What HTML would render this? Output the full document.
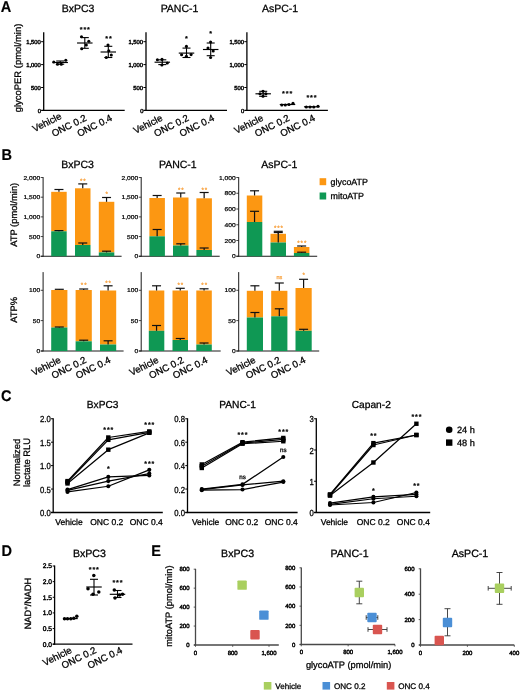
<!DOCTYPE html>
<html lang="en">
<head>
<meta charset="utf-8">
<title>Figure</title>
<style>
html,body{margin:0;padding:0;background:#fff;}
body{width:520px;height:691px;overflow:hidden;}
svg{display:block;font-family:"Liberation Sans", Arial, Helvetica, sans-serif;}
svg text{text-rendering:geometricPrecision;}
</style>
</head>
<body>
<svg width="520" height="691" viewBox="0 0 520 691">
<rect x="0" y="0" width="520" height="691" fill="#fff"/>
<text x="0.80" y="11.50" font-size="15.5" text-anchor="start" font-weight="bold" fill="#000" stroke="#000" stroke-width="0.15" transform="translate(0.80 11.50) scale(0.94 1) translate(-0.80 -11.50)" >A</text>
<text x="1.40" y="159.50" font-size="15.5" text-anchor="start" font-weight="bold" fill="#000" stroke="#000" stroke-width="0.15" transform="translate(1.40 159.50) scale(0.94 1) translate(-1.40 -159.50)" >B</text>
<text x="1.00" y="401.20" font-size="15.5" text-anchor="start" font-weight="bold" fill="#000" stroke="#000" stroke-width="0.15" transform="translate(1.00 401.20) scale(0.94 1) translate(-1.00 -401.20)" >C</text>
<text x="1.40" y="556.20" font-size="15.5" text-anchor="start" font-weight="bold" fill="#000" stroke="#000" stroke-width="0.15" transform="translate(1.40 556.20) scale(0.94 1) translate(-1.40 -556.20)" >D</text>
<text x="151.30" y="556.20" font-size="15.5" text-anchor="start" font-weight="bold" fill="#000" stroke="#000" stroke-width="0.15" transform="translate(151.30 556.20) scale(0.94 1) translate(-151.30 -556.20)" >E</text>
<text x="78.00" y="11.80" font-size="10.5" text-anchor="middle" font-weight="normal" fill="#000" stroke="#000" stroke-width="0.28" >BxPC3</text>
<text x="179.50" y="11.80" font-size="10.5" text-anchor="middle" font-weight="normal" fill="#000" stroke="#000" stroke-width="0.28" >PANC-1</text>
<text x="280.00" y="11.80" font-size="10.5" text-anchor="middle" font-weight="normal" fill="#000" stroke="#000" stroke-width="0.28" >AsPC-1</text>
<line x1="43.70" y1="32.30" x2="43.70" y2="111.00" stroke="#000" stroke-width="1.3" stroke-linecap="butt"/>
<line x1="41.10" y1="110.40" x2="124.70" y2="110.40" stroke="#000" stroke-width="1.3" stroke-linecap="butt"/>
<line x1="41.10" y1="41.70" x2="43.70" y2="41.70" stroke="#000" stroke-width="1.0" stroke-linecap="butt"/>
<text x="40.70" y="43.80" font-size="5.8" text-anchor="end" font-weight="normal" fill="#000" stroke="#000" stroke-width="0.42" >1,500</text>
<line x1="41.10" y1="64.60" x2="43.70" y2="64.60" stroke="#000" stroke-width="1.0" stroke-linecap="butt"/>
<text x="40.70" y="66.70" font-size="5.8" text-anchor="end" font-weight="normal" fill="#000" stroke="#000" stroke-width="0.42" >1,000</text>
<line x1="41.10" y1="87.50" x2="43.70" y2="87.50" stroke="#000" stroke-width="1.0" stroke-linecap="butt"/>
<text x="40.70" y="89.60" font-size="5.8" text-anchor="end" font-weight="normal" fill="#000" stroke="#000" stroke-width="0.42" >500</text>
<text x="41.10" y="113.30" font-size="5.8" text-anchor="end" font-weight="normal" fill="#000" stroke="#000" stroke-width="0.42" >0</text>
<line x1="146.00" y1="32.30" x2="146.00" y2="111.00" stroke="#000" stroke-width="1.3" stroke-linecap="butt"/>
<line x1="143.40" y1="110.40" x2="227.00" y2="110.40" stroke="#000" stroke-width="1.3" stroke-linecap="butt"/>
<line x1="143.40" y1="41.70" x2="146.00" y2="41.70" stroke="#000" stroke-width="1.0" stroke-linecap="butt"/>
<text x="143.00" y="43.80" font-size="5.8" text-anchor="end" font-weight="normal" fill="#000" stroke="#000" stroke-width="0.42" >1,500</text>
<line x1="143.40" y1="64.60" x2="146.00" y2="64.60" stroke="#000" stroke-width="1.0" stroke-linecap="butt"/>
<text x="143.00" y="66.70" font-size="5.8" text-anchor="end" font-weight="normal" fill="#000" stroke="#000" stroke-width="0.42" >1,000</text>
<line x1="143.40" y1="87.50" x2="146.00" y2="87.50" stroke="#000" stroke-width="1.0" stroke-linecap="butt"/>
<text x="143.00" y="89.60" font-size="5.8" text-anchor="end" font-weight="normal" fill="#000" stroke="#000" stroke-width="0.42" >500</text>
<text x="143.40" y="113.30" font-size="5.8" text-anchor="end" font-weight="normal" fill="#000" stroke="#000" stroke-width="0.42" >0</text>
<line x1="246.90" y1="32.30" x2="246.90" y2="111.00" stroke="#000" stroke-width="1.3" stroke-linecap="butt"/>
<line x1="244.30" y1="110.40" x2="327.90" y2="110.40" stroke="#000" stroke-width="1.3" stroke-linecap="butt"/>
<line x1="244.30" y1="41.70" x2="246.90" y2="41.70" stroke="#000" stroke-width="1.0" stroke-linecap="butt"/>
<text x="243.90" y="43.80" font-size="5.8" text-anchor="end" font-weight="normal" fill="#000" stroke="#000" stroke-width="0.42" >1,500</text>
<line x1="244.30" y1="64.60" x2="246.90" y2="64.60" stroke="#000" stroke-width="1.0" stroke-linecap="butt"/>
<text x="243.90" y="66.70" font-size="5.8" text-anchor="end" font-weight="normal" fill="#000" stroke="#000" stroke-width="0.42" >1,000</text>
<line x1="244.30" y1="87.50" x2="246.90" y2="87.50" stroke="#000" stroke-width="1.0" stroke-linecap="butt"/>
<text x="243.90" y="89.60" font-size="5.8" text-anchor="end" font-weight="normal" fill="#000" stroke="#000" stroke-width="0.42" >500</text>
<text x="244.30" y="113.30" font-size="5.8" text-anchor="end" font-weight="normal" fill="#000" stroke="#000" stroke-width="0.42" >0</text>
<text x="62.20" y="118.40" font-size="9.65" text-anchor="end" font-weight="normal" fill="#000" stroke="#000" stroke-width="0.28" transform="rotate(-26.5 62.20 118.40)" >Vehicle</text>
<text x="87.20" y="120.20" font-size="9.65" text-anchor="end" font-weight="normal" fill="#000" stroke="#000" stroke-width="0.28" transform="rotate(-26.5 87.20 120.20)" >ONC 0.2</text>
<text x="112.70" y="120.20" font-size="9.65" text-anchor="end" font-weight="normal" fill="#000" stroke="#000" stroke-width="0.28" transform="rotate(-26.5 112.70 120.20)" >ONC 0.4</text>
<text x="163.20" y="120.20" font-size="9.65" text-anchor="end" font-weight="normal" fill="#000" stroke="#000" stroke-width="0.28" transform="rotate(-26.5 163.20 120.20)" >Vehicle</text>
<text x="189.50" y="120.20" font-size="9.65" text-anchor="end" font-weight="normal" fill="#000" stroke="#000" stroke-width="0.28" transform="rotate(-26.5 189.50 120.20)" >ONC 0.2</text>
<text x="215.00" y="120.20" font-size="9.65" text-anchor="end" font-weight="normal" fill="#000" stroke="#000" stroke-width="0.28" transform="rotate(-26.5 215.00 120.20)" >ONC 0.4</text>
<text x="264.10" y="120.20" font-size="9.65" text-anchor="end" font-weight="normal" fill="#000" stroke="#000" stroke-width="0.28" transform="rotate(-26.5 264.10 120.20)" >Vehicle</text>
<text x="290.40" y="120.20" font-size="9.65" text-anchor="end" font-weight="normal" fill="#000" stroke="#000" stroke-width="0.28" transform="rotate(-26.5 290.40 120.20)" >ONC 0.2</text>
<text x="315.90" y="120.20" font-size="9.65" text-anchor="end" font-weight="normal" fill="#000" stroke="#000" stroke-width="0.28" transform="rotate(-26.5 315.90 120.20)" >ONC 0.4</text>
<text x="20.80" y="68.00" font-size="9.45" text-anchor="middle" font-weight="normal" fill="#000" stroke="#000" stroke-width="0.28" transform="rotate(-90 20.80 68.00)" >glycoPER (pmol/min)</text>
<line x1="52.45" y1="62.50" x2="67.95" y2="62.50" stroke="#000" stroke-width="1.15" stroke-linecap="butt"/>
<line x1="60.20" y1="61.00" x2="60.20" y2="64.20" stroke="#000" stroke-width="1.1" stroke-linecap="butt"/>
<line x1="56.20" y1="61.00" x2="64.20" y2="61.00" stroke="#000" stroke-width="1.1" stroke-linecap="butt"/>
<line x1="56.20" y1="64.20" x2="64.20" y2="64.20" stroke="#000" stroke-width="1.1" stroke-linecap="butt"/>
<circle cx="53.80" cy="62.00" r="1.55" fill="#000"/>
<circle cx="57.50" cy="64.30" r="1.55" fill="#000"/>
<circle cx="61.30" cy="64.30" r="1.55" fill="#000"/>
<circle cx="65.80" cy="60.20" r="1.55" fill="#000"/>
<line x1="77.05" y1="43.00" x2="92.55" y2="43.00" stroke="#000" stroke-width="1.15" stroke-linecap="butt"/>
<line x1="84.80" y1="37.60" x2="84.80" y2="48.30" stroke="#000" stroke-width="1.1" stroke-linecap="butt"/>
<line x1="80.80" y1="37.60" x2="88.80" y2="37.60" stroke="#000" stroke-width="1.1" stroke-linecap="butt"/>
<line x1="80.80" y1="48.30" x2="88.80" y2="48.30" stroke="#000" stroke-width="1.1" stroke-linecap="butt"/>
<circle cx="81.50" cy="36.80" r="1.55" fill="#000"/>
<circle cx="88.80" cy="41.30" r="1.55" fill="#000"/>
<circle cx="86.30" cy="45.00" r="1.55" fill="#000"/>
<circle cx="81.70" cy="48.80" r="1.55" fill="#000"/>
<line x1="100.55" y1="52.00" x2="116.05" y2="52.00" stroke="#000" stroke-width="1.15" stroke-linecap="butt"/>
<line x1="108.30" y1="46.30" x2="108.30" y2="57.50" stroke="#000" stroke-width="1.1" stroke-linecap="butt"/>
<line x1="104.30" y1="46.30" x2="112.30" y2="46.30" stroke="#000" stroke-width="1.1" stroke-linecap="butt"/>
<line x1="104.30" y1="57.50" x2="112.30" y2="57.50" stroke="#000" stroke-width="1.1" stroke-linecap="butt"/>
<circle cx="108.00" cy="45.00" r="1.55" fill="#000"/>
<circle cx="108.80" cy="50.80" r="1.55" fill="#000"/>
<circle cx="111.30" cy="55.00" r="1.55" fill="#000"/>
<circle cx="106.30" cy="57.50" r="1.55" fill="#000"/>
<text x="85.25" y="31.50" font-size="7.2" text-anchor="middle" font-weight="bold" fill="#000" stroke="#000" stroke-width="0.15" letter-spacing="0.9">***</text>
<text x="108.95" y="40.80" font-size="7.2" text-anchor="middle" font-weight="bold" fill="#000" stroke="#000" stroke-width="0.15" letter-spacing="0.9">**</text>
<line x1="154.55" y1="62.20" x2="170.05" y2="62.20" stroke="#000" stroke-width="1.15" stroke-linecap="butt"/>
<line x1="162.30" y1="59.80" x2="162.30" y2="64.60" stroke="#000" stroke-width="1.1" stroke-linecap="butt"/>
<line x1="158.30" y1="59.80" x2="166.30" y2="59.80" stroke="#000" stroke-width="1.1" stroke-linecap="butt"/>
<line x1="158.30" y1="64.60" x2="166.30" y2="64.60" stroke="#000" stroke-width="1.1" stroke-linecap="butt"/>
<circle cx="157.40" cy="59.80" r="1.55" fill="#000"/>
<circle cx="162.00" cy="59.40" r="1.55" fill="#000"/>
<circle cx="167.30" cy="63.00" r="1.55" fill="#000"/>
<circle cx="161.90" cy="65.00" r="1.55" fill="#000"/>
<line x1="178.75" y1="53.10" x2="194.25" y2="53.10" stroke="#000" stroke-width="1.15" stroke-linecap="butt"/>
<line x1="186.50" y1="48.10" x2="186.50" y2="57.50" stroke="#000" stroke-width="1.1" stroke-linecap="butt"/>
<line x1="182.50" y1="48.10" x2="190.50" y2="48.10" stroke="#000" stroke-width="1.1" stroke-linecap="butt"/>
<line x1="182.50" y1="57.50" x2="190.50" y2="57.50" stroke="#000" stroke-width="1.1" stroke-linecap="butt"/>
<circle cx="186.40" cy="46.40" r="1.55" fill="#000"/>
<circle cx="181.60" cy="54.70" r="1.55" fill="#000"/>
<circle cx="191.10" cy="54.60" r="1.55" fill="#000"/>
<circle cx="186.40" cy="56.20" r="1.55" fill="#000"/>
<line x1="202.95" y1="49.50" x2="218.45" y2="49.50" stroke="#000" stroke-width="1.15" stroke-linecap="butt"/>
<line x1="210.70" y1="43.00" x2="210.70" y2="55.70" stroke="#000" stroke-width="1.1" stroke-linecap="butt"/>
<line x1="206.70" y1="43.00" x2="214.70" y2="43.00" stroke="#000" stroke-width="1.1" stroke-linecap="butt"/>
<line x1="206.70" y1="55.70" x2="214.70" y2="55.70" stroke="#000" stroke-width="1.1" stroke-linecap="butt"/>
<circle cx="210.60" cy="42.00" r="1.55" fill="#000"/>
<circle cx="208.00" cy="48.10" r="1.55" fill="#000"/>
<circle cx="213.20" cy="51.00" r="1.55" fill="#000"/>
<circle cx="210.60" cy="57.50" r="1.55" fill="#000"/>
<text x="186.85" y="41.20" font-size="7.2" text-anchor="middle" font-weight="bold" fill="#000" stroke="#000" stroke-width="0.15" letter-spacing="0.9">*</text>
<text x="211.05" y="35.60" font-size="7.2" text-anchor="middle" font-weight="bold" fill="#000" stroke="#000" stroke-width="0.15" letter-spacing="0.9">*</text>
<line x1="255.45" y1="93.80" x2="270.95" y2="93.80" stroke="#000" stroke-width="1.15" stroke-linecap="butt"/>
<line x1="263.20" y1="91.30" x2="263.20" y2="96.30" stroke="#000" stroke-width="1.1" stroke-linecap="butt"/>
<line x1="259.20" y1="91.30" x2="267.20" y2="91.30" stroke="#000" stroke-width="1.1" stroke-linecap="butt"/>
<line x1="259.20" y1="96.30" x2="267.20" y2="96.30" stroke="#000" stroke-width="1.1" stroke-linecap="butt"/>
<circle cx="260.00" cy="93.80" r="1.55" fill="#000"/>
<circle cx="265.90" cy="93.80" r="1.55" fill="#000"/>
<circle cx="263.00" cy="91.30" r="1.55" fill="#000"/>
<circle cx="263.00" cy="96.30" r="1.55" fill="#000"/>
<line x1="279.75" y1="104.50" x2="295.25" y2="104.50" stroke="#000" stroke-width="1.15" stroke-linecap="butt"/>
<line x1="287.50" y1="103.80" x2="287.50" y2="105.20" stroke="#000" stroke-width="1.1" stroke-linecap="butt"/>
<line x1="287.50" y1="103.80" x2="287.50" y2="103.80" stroke="#000" stroke-width="1.1" stroke-linecap="butt"/>
<line x1="287.50" y1="105.20" x2="287.50" y2="105.20" stroke="#000" stroke-width="1.1" stroke-linecap="butt"/>
<circle cx="281.80" cy="105.00" r="1.55" fill="#000"/>
<circle cx="285.30" cy="105.00" r="1.55" fill="#000"/>
<circle cx="289.00" cy="104.50" r="1.55" fill="#000"/>
<circle cx="293.00" cy="103.30" r="1.55" fill="#000"/>
<line x1="303.95" y1="106.80" x2="319.45" y2="106.80" stroke="#000" stroke-width="1.15" stroke-linecap="butt"/>
<line x1="311.70" y1="106.30" x2="311.70" y2="107.30" stroke="#000" stroke-width="1.1" stroke-linecap="butt"/>
<line x1="311.70" y1="106.30" x2="311.70" y2="106.30" stroke="#000" stroke-width="1.1" stroke-linecap="butt"/>
<line x1="311.70" y1="107.30" x2="311.70" y2="107.30" stroke="#000" stroke-width="1.1" stroke-linecap="butt"/>
<circle cx="306.30" cy="107.00" r="1.55" fill="#000"/>
<circle cx="310.00" cy="107.00" r="1.55" fill="#000"/>
<circle cx="313.80" cy="107.00" r="1.55" fill="#000"/>
<circle cx="318.00" cy="106.30" r="1.55" fill="#000"/>
<text x="287.65" y="96.00" font-size="7.2" text-anchor="middle" font-weight="bold" fill="#000" stroke="#000" stroke-width="0.15" letter-spacing="0.9">***</text>
<text x="311.95" y="99.50" font-size="7.2" text-anchor="middle" font-weight="bold" fill="#000" stroke="#000" stroke-width="0.15" letter-spacing="0.9">***</text>
<text x="77.50" y="167.70" font-size="10.5" text-anchor="middle" font-weight="normal" fill="#000" stroke="#000" stroke-width="0.28" >BxPC3</text>
<text x="177.80" y="167.70" font-size="10.5" text-anchor="middle" font-weight="normal" fill="#000" stroke="#000" stroke-width="0.28" >PANC-1</text>
<text x="279.30" y="167.70" font-size="10.5" text-anchor="middle" font-weight="normal" fill="#000" stroke="#000" stroke-width="0.28" >AsPC-1</text>
<text x="16.80" y="214.80" font-size="9.35" text-anchor="middle" font-weight="normal" fill="#000" stroke="#000" stroke-width="0.28" transform="rotate(-90 16.80 214.80)" >ATP (pmol/min)</text>
<text x="16.80" y="309.80" font-size="9.35" text-anchor="middle" font-weight="normal" fill="#000" stroke="#000" stroke-width="0.28" transform="rotate(-90 16.80 309.80)" >ATP%</text>
<line x1="43.10" y1="177.10" x2="43.10" y2="256.65" stroke="#1a1a1a" stroke-width="1.0" stroke-linecap="butt"/>
<line x1="40.70" y1="256.25" x2="121.60" y2="256.25" stroke="#1a1a1a" stroke-width="1.0" stroke-linecap="butt"/>
<line x1="40.70" y1="177.50" x2="43.10" y2="177.50" stroke="#1a1a1a" stroke-width="0.8" stroke-linecap="butt"/>
<text x="40.20" y="179.50" font-size="5.6" text-anchor="end" font-weight="normal" fill="#000" stroke="#000" stroke-width="0.2" transform="translate(40.20 179.50) scale(1.2 1) translate(-40.20 -179.50)" >2,000</text>
<line x1="40.70" y1="197.19" x2="43.10" y2="197.19" stroke="#1a1a1a" stroke-width="0.8" stroke-linecap="butt"/>
<text x="40.20" y="199.19" font-size="5.6" text-anchor="end" font-weight="normal" fill="#000" stroke="#000" stroke-width="0.2" transform="translate(40.20 199.19) scale(1.2 1) translate(-40.20 -199.19)" >1,500</text>
<line x1="40.70" y1="216.88" x2="43.10" y2="216.88" stroke="#1a1a1a" stroke-width="0.8" stroke-linecap="butt"/>
<text x="40.20" y="218.88" font-size="5.6" text-anchor="end" font-weight="normal" fill="#000" stroke="#000" stroke-width="0.2" transform="translate(40.20 218.88) scale(1.2 1) translate(-40.20 -218.88)" >1,000</text>
<line x1="40.70" y1="236.56" x2="43.10" y2="236.56" stroke="#1a1a1a" stroke-width="0.8" stroke-linecap="butt"/>
<text x="40.20" y="238.56" font-size="5.6" text-anchor="end" font-weight="normal" fill="#000" stroke="#000" stroke-width="0.2" transform="translate(40.20 238.56) scale(1.2 1) translate(-40.20 -238.56)" >500</text>
<line x1="40.70" y1="256.25" x2="43.10" y2="256.25" stroke="#1a1a1a" stroke-width="0.8" stroke-linecap="butt"/>
<text x="40.20" y="258.25" font-size="5.6" text-anchor="end" font-weight="normal" fill="#000" stroke="#000" stroke-width="0.2" transform="translate(40.20 258.25) scale(1.2 1) translate(-40.20 -258.25)" >0</text>
<rect x="51.20" y="191.80" width="15.50" height="39.50" fill="#FC9712" rx="0" />
<rect x="51.20" y="231.30" width="15.50" height="24.95" fill="#0F9854" rx="0" />
<rect x="75.00" y="188.30" width="15.50" height="56.70" fill="#FC9712" rx="0" />
<rect x="75.00" y="245.00" width="15.50" height="11.25" fill="#0F9854" rx="0" />
<rect x="98.80" y="201.80" width="15.50" height="50.60" fill="#FC9712" rx="0" />
<rect x="98.80" y="252.40" width="15.50" height="3.85" fill="#0F9854" rx="0" />
<line x1="58.95" y1="231.30" x2="58.95" y2="230.60" stroke="#111" stroke-width="1.2" stroke-linecap="butt"/>
<line x1="54.45" y1="230.60" x2="63.45" y2="230.60" stroke="#111" stroke-width="1.2" stroke-linecap="butt"/>
<line x1="58.95" y1="191.80" x2="58.95" y2="189.50" stroke="#111" stroke-width="1.2" stroke-linecap="butt"/>
<line x1="54.45" y1="189.50" x2="63.45" y2="189.50" stroke="#111" stroke-width="1.2" stroke-linecap="butt"/>
<line x1="82.75" y1="245.00" x2="82.75" y2="243.00" stroke="#111" stroke-width="1.2" stroke-linecap="butt"/>
<line x1="78.25" y1="243.00" x2="87.25" y2="243.00" stroke="#111" stroke-width="1.2" stroke-linecap="butt"/>
<line x1="82.75" y1="188.30" x2="82.75" y2="183.90" stroke="#111" stroke-width="1.2" stroke-linecap="butt"/>
<line x1="78.25" y1="183.90" x2="87.25" y2="183.90" stroke="#111" stroke-width="1.2" stroke-linecap="butt"/>
<line x1="106.55" y1="252.40" x2="106.55" y2="251.20" stroke="#111" stroke-width="1.2" stroke-linecap="butt"/>
<line x1="102.05" y1="251.20" x2="111.05" y2="251.20" stroke="#111" stroke-width="1.2" stroke-linecap="butt"/>
<line x1="106.55" y1="201.80" x2="106.55" y2="197.50" stroke="#111" stroke-width="1.2" stroke-linecap="butt"/>
<line x1="102.05" y1="197.50" x2="111.05" y2="197.50" stroke="#111" stroke-width="1.2" stroke-linecap="butt"/>
<text x="83.35" y="182.60" font-size="6.2" text-anchor="middle" font-weight="normal" fill="#F9A648" stroke="#F9A648" stroke-width="0.28" letter-spacing="0.9">**</text>
<text x="107.15" y="195.80" font-size="6.2" text-anchor="middle" font-weight="normal" fill="#F9A648" stroke="#F9A648" stroke-width="0.28" letter-spacing="0.9">*</text>
<line x1="141.20" y1="177.10" x2="141.20" y2="256.65" stroke="#1a1a1a" stroke-width="1.0" stroke-linecap="butt"/>
<line x1="138.80" y1="256.25" x2="219.70" y2="256.25" stroke="#1a1a1a" stroke-width="1.0" stroke-linecap="butt"/>
<line x1="138.80" y1="177.50" x2="141.20" y2="177.50" stroke="#1a1a1a" stroke-width="0.8" stroke-linecap="butt"/>
<text x="138.30" y="179.50" font-size="5.6" text-anchor="end" font-weight="normal" fill="#000" stroke="#000" stroke-width="0.2" transform="translate(138.30 179.50) scale(1.2 1) translate(-138.30 -179.50)" >2,000</text>
<line x1="138.80" y1="197.19" x2="141.20" y2="197.19" stroke="#1a1a1a" stroke-width="0.8" stroke-linecap="butt"/>
<text x="138.30" y="199.19" font-size="5.6" text-anchor="end" font-weight="normal" fill="#000" stroke="#000" stroke-width="0.2" transform="translate(138.30 199.19) scale(1.2 1) translate(-138.30 -199.19)" >1,500</text>
<line x1="138.80" y1="216.88" x2="141.20" y2="216.88" stroke="#1a1a1a" stroke-width="0.8" stroke-linecap="butt"/>
<text x="138.30" y="218.88" font-size="5.6" text-anchor="end" font-weight="normal" fill="#000" stroke="#000" stroke-width="0.2" transform="translate(138.30 218.88) scale(1.2 1) translate(-138.30 -218.88)" >1,000</text>
<line x1="138.80" y1="236.56" x2="141.20" y2="236.56" stroke="#1a1a1a" stroke-width="0.8" stroke-linecap="butt"/>
<text x="138.30" y="238.56" font-size="5.6" text-anchor="end" font-weight="normal" fill="#000" stroke="#000" stroke-width="0.2" transform="translate(138.30 238.56) scale(1.2 1) translate(-138.30 -238.56)" >500</text>
<line x1="138.80" y1="256.25" x2="141.20" y2="256.25" stroke="#1a1a1a" stroke-width="0.8" stroke-linecap="butt"/>
<text x="138.30" y="258.25" font-size="5.6" text-anchor="end" font-weight="normal" fill="#000" stroke="#000" stroke-width="0.2" transform="translate(138.30 258.25) scale(1.2 1) translate(-138.30 -258.25)" >0</text>
<rect x="149.40" y="198.00" width="15.50" height="38.30" fill="#FC9712" rx="0" />
<rect x="149.40" y="236.30" width="15.50" height="19.95" fill="#0F9854" rx="0" />
<rect x="173.00" y="197.50" width="15.50" height="48.00" fill="#FC9712" rx="0" />
<rect x="173.00" y="245.50" width="15.50" height="10.75" fill="#0F9854" rx="0" />
<rect x="196.40" y="198.30" width="15.50" height="51.70" fill="#FC9712" rx="0" />
<rect x="196.40" y="250.00" width="15.50" height="6.25" fill="#0F9854" rx="0" />
<line x1="157.15" y1="236.30" x2="157.15" y2="229.50" stroke="#111" stroke-width="1.2" stroke-linecap="butt"/>
<line x1="152.65" y1="229.50" x2="161.65" y2="229.50" stroke="#111" stroke-width="1.2" stroke-linecap="butt"/>
<line x1="157.15" y1="198.00" x2="157.15" y2="195.50" stroke="#111" stroke-width="1.2" stroke-linecap="butt"/>
<line x1="152.65" y1="195.50" x2="161.65" y2="195.50" stroke="#111" stroke-width="1.2" stroke-linecap="butt"/>
<line x1="180.75" y1="245.50" x2="180.75" y2="243.80" stroke="#111" stroke-width="1.2" stroke-linecap="butt"/>
<line x1="176.25" y1="243.80" x2="185.25" y2="243.80" stroke="#111" stroke-width="1.2" stroke-linecap="butt"/>
<line x1="180.75" y1="197.50" x2="180.75" y2="193.00" stroke="#111" stroke-width="1.2" stroke-linecap="butt"/>
<line x1="176.25" y1="193.00" x2="185.25" y2="193.00" stroke="#111" stroke-width="1.2" stroke-linecap="butt"/>
<line x1="204.15" y1="250.00" x2="204.15" y2="248.00" stroke="#111" stroke-width="1.2" stroke-linecap="butt"/>
<line x1="199.65" y1="248.00" x2="208.65" y2="248.00" stroke="#111" stroke-width="1.2" stroke-linecap="butt"/>
<line x1="204.15" y1="198.30" x2="204.15" y2="192.50" stroke="#111" stroke-width="1.2" stroke-linecap="butt"/>
<line x1="199.65" y1="192.50" x2="208.65" y2="192.50" stroke="#111" stroke-width="1.2" stroke-linecap="butt"/>
<text x="181.35" y="191.80" font-size="6.2" text-anchor="middle" font-weight="normal" fill="#F9A648" stroke="#F9A648" stroke-width="0.28" letter-spacing="0.9">**</text>
<text x="204.75" y="191.80" font-size="6.2" text-anchor="middle" font-weight="normal" fill="#F9A648" stroke="#F9A648" stroke-width="0.28" letter-spacing="0.9">**</text>
<line x1="238.70" y1="177.10" x2="238.70" y2="256.65" stroke="#1a1a1a" stroke-width="1.0" stroke-linecap="butt"/>
<line x1="236.30" y1="256.25" x2="317.20" y2="256.25" stroke="#1a1a1a" stroke-width="1.0" stroke-linecap="butt"/>
<line x1="236.30" y1="177.50" x2="238.70" y2="177.50" stroke="#1a1a1a" stroke-width="0.8" stroke-linecap="butt"/>
<text x="235.80" y="179.50" font-size="5.6" text-anchor="end" font-weight="normal" fill="#000" stroke="#000" stroke-width="0.2" transform="translate(235.80 179.50) scale(1.2 1) translate(-235.80 -179.50)" >1,000</text>
<line x1="236.30" y1="193.25" x2="238.70" y2="193.25" stroke="#1a1a1a" stroke-width="0.8" stroke-linecap="butt"/>
<text x="235.80" y="195.25" font-size="5.6" text-anchor="end" font-weight="normal" fill="#000" stroke="#000" stroke-width="0.2" transform="translate(235.80 195.25) scale(1.2 1) translate(-235.80 -195.25)" >800</text>
<line x1="236.30" y1="209.00" x2="238.70" y2="209.00" stroke="#1a1a1a" stroke-width="0.8" stroke-linecap="butt"/>
<text x="235.80" y="211.00" font-size="5.6" text-anchor="end" font-weight="normal" fill="#000" stroke="#000" stroke-width="0.2" transform="translate(235.80 211.00) scale(1.2 1) translate(-235.80 -211.00)" >600</text>
<line x1="236.30" y1="224.75" x2="238.70" y2="224.75" stroke="#1a1a1a" stroke-width="0.8" stroke-linecap="butt"/>
<text x="235.80" y="226.75" font-size="5.6" text-anchor="end" font-weight="normal" fill="#000" stroke="#000" stroke-width="0.2" transform="translate(235.80 226.75) scale(1.2 1) translate(-235.80 -226.75)" >400</text>
<line x1="236.30" y1="240.50" x2="238.70" y2="240.50" stroke="#1a1a1a" stroke-width="0.8" stroke-linecap="butt"/>
<text x="235.80" y="242.50" font-size="5.6" text-anchor="end" font-weight="normal" fill="#000" stroke="#000" stroke-width="0.2" transform="translate(235.80 242.50) scale(1.2 1) translate(-235.80 -242.50)" >200</text>
<line x1="236.30" y1="256.25" x2="238.70" y2="256.25" stroke="#1a1a1a" stroke-width="0.8" stroke-linecap="butt"/>
<text x="235.80" y="258.25" font-size="5.6" text-anchor="end" font-weight="normal" fill="#000" stroke="#000" stroke-width="0.2" transform="translate(235.80 258.25) scale(1.2 1) translate(-235.80 -258.25)" >0</text>
<rect x="246.80" y="195.50" width="15.50" height="26.50" fill="#FC9712" rx="0" />
<rect x="246.80" y="222.00" width="15.50" height="34.25" fill="#0F9854" rx="0" />
<rect x="270.50" y="233.80" width="15.50" height="8.70" fill="#FC9712" rx="0" />
<rect x="270.50" y="242.50" width="15.50" height="13.75" fill="#0F9854" rx="0" />
<rect x="293.90" y="247.00" width="15.50" height="6.00" fill="#FC9712" rx="0" />
<rect x="293.90" y="253.00" width="15.50" height="3.25" fill="#0F9854" rx="0" />
<line x1="254.55" y1="222.00" x2="254.55" y2="211.30" stroke="#111" stroke-width="1.2" stroke-linecap="butt"/>
<line x1="250.05" y1="211.30" x2="259.05" y2="211.30" stroke="#111" stroke-width="1.2" stroke-linecap="butt"/>
<line x1="254.55" y1="195.50" x2="254.55" y2="190.80" stroke="#111" stroke-width="1.2" stroke-linecap="butt"/>
<line x1="250.05" y1="190.80" x2="259.05" y2="190.80" stroke="#111" stroke-width="1.2" stroke-linecap="butt"/>
<line x1="278.25" y1="242.50" x2="278.25" y2="232.50" stroke="#111" stroke-width="1.2" stroke-linecap="butt"/>
<line x1="273.75" y1="232.50" x2="282.75" y2="232.50" stroke="#111" stroke-width="1.2" stroke-linecap="butt"/>
<line x1="278.25" y1="233.80" x2="278.25" y2="231.30" stroke="#111" stroke-width="1.2" stroke-linecap="butt"/>
<line x1="273.75" y1="231.30" x2="282.75" y2="231.30" stroke="#111" stroke-width="1.2" stroke-linecap="butt"/>
<line x1="301.65" y1="253.00" x2="301.65" y2="252.20" stroke="#111" stroke-width="1.2" stroke-linecap="butt"/>
<line x1="297.15" y1="252.20" x2="306.15" y2="252.20" stroke="#111" stroke-width="1.2" stroke-linecap="butt"/>
<line x1="301.65" y1="247.00" x2="301.65" y2="246.00" stroke="#111" stroke-width="1.2" stroke-linecap="butt"/>
<line x1="297.15" y1="246.00" x2="306.15" y2="246.00" stroke="#111" stroke-width="1.2" stroke-linecap="butt"/>
<text x="278.85" y="230.00" font-size="6.2" text-anchor="middle" font-weight="normal" fill="#F9A648" stroke="#F9A648" stroke-width="0.28" letter-spacing="0.9">***</text>
<text x="302.25" y="245.00" font-size="6.2" text-anchor="middle" font-weight="normal" fill="#F9A648" stroke="#F9A648" stroke-width="0.28" letter-spacing="0.9">***</text>
<rect x="319.60" y="178.20" width="6.60" height="7.00" fill="#FC9712" rx="0" />
<rect x="319.60" y="192.50" width="6.60" height="7.00" fill="#0F9854" rx="0" />
<text x="330.60" y="185.40" font-size="8.9" text-anchor="start" font-weight="normal" fill="#000" stroke="#000" stroke-width="0.28" >glycoATP</text>
<text x="330.60" y="199.40" font-size="8.9" text-anchor="start" font-weight="normal" fill="#000" stroke="#000" stroke-width="0.28" >mitoATP</text>
<line x1="43.10" y1="272.10" x2="43.10" y2="351.40" stroke="#1a1a1a" stroke-width="1.0" stroke-linecap="butt"/>
<line x1="40.70" y1="351.00" x2="123.60" y2="351.00" stroke="#1a1a1a" stroke-width="1.0" stroke-linecap="butt"/>
<line x1="40.70" y1="290.30" x2="43.10" y2="290.30" stroke="#1a1a1a" stroke-width="0.8" stroke-linecap="butt"/>
<text x="40.20" y="292.30" font-size="5.6" text-anchor="end" font-weight="normal" fill="#000" stroke="#000" stroke-width="0.2" transform="translate(40.20 292.30) scale(1.2 1) translate(-40.20 -292.30)" >100</text>
<line x1="40.70" y1="320.60" x2="43.10" y2="320.60" stroke="#1a1a1a" stroke-width="0.8" stroke-linecap="butt"/>
<text x="40.20" y="322.60" font-size="5.6" text-anchor="end" font-weight="normal" fill="#000" stroke="#000" stroke-width="0.2" transform="translate(40.20 322.60) scale(1.2 1) translate(-40.20 -322.60)" >50</text>
<line x1="40.70" y1="351.00" x2="43.10" y2="351.00" stroke="#1a1a1a" stroke-width="0.8" stroke-linecap="butt"/>
<text x="40.20" y="353.00" font-size="5.6" text-anchor="end" font-weight="normal" fill="#000" stroke="#000" stroke-width="0.2" transform="translate(40.20 353.00) scale(1.2 1) translate(-40.20 -353.00)" >0</text>
<rect x="51.20" y="290.00" width="16.20" height="37.50" fill="#FC9712" rx="0" />
<rect x="51.20" y="327.50" width="16.20" height="23.50" fill="#0F9854" rx="0" />
<rect x="75.60" y="290.00" width="16.20" height="51.30" fill="#FC9712" rx="0" />
<rect x="75.60" y="341.30" width="16.20" height="9.70" fill="#0F9854" rx="0" />
<rect x="100.00" y="290.50" width="16.20" height="54.00" fill="#FC9712" rx="0" />
<rect x="100.00" y="344.50" width="16.20" height="6.50" fill="#0F9854" rx="0" />
<line x1="59.30" y1="327.50" x2="59.30" y2="327.00" stroke="#111" stroke-width="1.2" stroke-linecap="butt"/>
<line x1="54.80" y1="327.00" x2="63.80" y2="327.00" stroke="#111" stroke-width="1.2" stroke-linecap="butt"/>
<line x1="59.30" y1="290.00" x2="59.30" y2="289.30" stroke="#111" stroke-width="1.2" stroke-linecap="butt"/>
<line x1="54.80" y1="289.30" x2="63.80" y2="289.30" stroke="#111" stroke-width="1.2" stroke-linecap="butt"/>
<line x1="83.70" y1="341.30" x2="83.70" y2="340.20" stroke="#111" stroke-width="1.2" stroke-linecap="butt"/>
<line x1="79.20" y1="340.20" x2="88.20" y2="340.20" stroke="#111" stroke-width="1.2" stroke-linecap="butt"/>
<line x1="83.70" y1="290.00" x2="83.70" y2="289.00" stroke="#111" stroke-width="1.2" stroke-linecap="butt"/>
<line x1="79.20" y1="289.00" x2="88.20" y2="289.00" stroke="#111" stroke-width="1.2" stroke-linecap="butt"/>
<line x1="108.10" y1="344.50" x2="108.10" y2="340.80" stroke="#111" stroke-width="1.2" stroke-linecap="butt"/>
<line x1="103.60" y1="340.80" x2="112.60" y2="340.80" stroke="#111" stroke-width="1.2" stroke-linecap="butt"/>
<line x1="108.10" y1="290.50" x2="108.10" y2="285.80" stroke="#111" stroke-width="1.2" stroke-linecap="butt"/>
<line x1="103.60" y1="285.80" x2="112.60" y2="285.80" stroke="#111" stroke-width="1.2" stroke-linecap="butt"/>
<text x="84.15" y="286.80" font-size="6.2" text-anchor="middle" font-weight="normal" fill="#F9A648" stroke="#F9A648" stroke-width="0.28" letter-spacing="0.9">**</text>
<text x="108.55" y="284.50" font-size="6.2" text-anchor="middle" font-weight="normal" fill="#F9A648" stroke="#F9A648" stroke-width="0.28" letter-spacing="0.9">**</text>
<line x1="141.20" y1="272.10" x2="141.20" y2="351.40" stroke="#1a1a1a" stroke-width="1.0" stroke-linecap="butt"/>
<line x1="138.80" y1="351.00" x2="220.70" y2="351.00" stroke="#1a1a1a" stroke-width="1.0" stroke-linecap="butt"/>
<line x1="138.80" y1="290.30" x2="141.20" y2="290.30" stroke="#1a1a1a" stroke-width="0.8" stroke-linecap="butt"/>
<text x="138.30" y="292.30" font-size="5.6" text-anchor="end" font-weight="normal" fill="#000" stroke="#000" stroke-width="0.2" transform="translate(138.30 292.30) scale(1.2 1) translate(-138.30 -292.30)" >100</text>
<line x1="138.80" y1="320.60" x2="141.20" y2="320.60" stroke="#1a1a1a" stroke-width="0.8" stroke-linecap="butt"/>
<text x="138.30" y="322.60" font-size="5.6" text-anchor="end" font-weight="normal" fill="#000" stroke="#000" stroke-width="0.2" transform="translate(138.30 322.60) scale(1.2 1) translate(-138.30 -322.60)" >50</text>
<line x1="138.80" y1="351.00" x2="141.20" y2="351.00" stroke="#1a1a1a" stroke-width="0.8" stroke-linecap="butt"/>
<text x="138.30" y="353.00" font-size="5.6" text-anchor="end" font-weight="normal" fill="#000" stroke="#000" stroke-width="0.2" transform="translate(138.30 353.00) scale(1.2 1) translate(-138.30 -353.00)" >0</text>
<rect x="148.80" y="290.50" width="15.50" height="40.30" fill="#FC9712" rx="0" />
<rect x="148.80" y="330.80" width="15.50" height="20.20" fill="#0F9854" rx="0" />
<rect x="172.50" y="290.50" width="15.50" height="49.50" fill="#FC9712" rx="0" />
<rect x="172.50" y="340.00" width="15.50" height="11.00" fill="#0F9854" rx="0" />
<rect x="196.30" y="290.50" width="15.50" height="54.00" fill="#FC9712" rx="0" />
<rect x="196.30" y="344.50" width="15.50" height="6.50" fill="#0F9854" rx="0" />
<line x1="156.55" y1="330.80" x2="156.55" y2="325.50" stroke="#111" stroke-width="1.2" stroke-linecap="butt"/>
<line x1="152.05" y1="325.50" x2="161.05" y2="325.50" stroke="#111" stroke-width="1.2" stroke-linecap="butt"/>
<line x1="156.55" y1="290.50" x2="156.55" y2="285.80" stroke="#111" stroke-width="1.2" stroke-linecap="butt"/>
<line x1="152.05" y1="285.80" x2="161.05" y2="285.80" stroke="#111" stroke-width="1.2" stroke-linecap="butt"/>
<line x1="180.25" y1="340.00" x2="180.25" y2="338.50" stroke="#111" stroke-width="1.2" stroke-linecap="butt"/>
<line x1="175.75" y1="338.50" x2="184.75" y2="338.50" stroke="#111" stroke-width="1.2" stroke-linecap="butt"/>
<line x1="180.25" y1="290.50" x2="180.25" y2="288.30" stroke="#111" stroke-width="1.2" stroke-linecap="butt"/>
<line x1="175.75" y1="288.30" x2="184.75" y2="288.30" stroke="#111" stroke-width="1.2" stroke-linecap="butt"/>
<line x1="204.05" y1="344.50" x2="204.05" y2="343.00" stroke="#111" stroke-width="1.2" stroke-linecap="butt"/>
<line x1="199.55" y1="343.00" x2="208.55" y2="343.00" stroke="#111" stroke-width="1.2" stroke-linecap="butt"/>
<line x1="204.05" y1="290.50" x2="204.05" y2="288.80" stroke="#111" stroke-width="1.2" stroke-linecap="butt"/>
<line x1="199.55" y1="288.80" x2="208.55" y2="288.80" stroke="#111" stroke-width="1.2" stroke-linecap="butt"/>
<text x="180.85" y="286.80" font-size="6.2" text-anchor="middle" font-weight="normal" fill="#F9A648" stroke="#F9A648" stroke-width="0.28" letter-spacing="0.9">**</text>
<text x="204.65" y="287.20" font-size="6.2" text-anchor="middle" font-weight="normal" fill="#F9A648" stroke="#F9A648" stroke-width="0.28" letter-spacing="0.9">**</text>
<line x1="238.70" y1="272.10" x2="238.70" y2="351.40" stroke="#1a1a1a" stroke-width="1.0" stroke-linecap="butt"/>
<line x1="236.30" y1="351.00" x2="319.20" y2="351.00" stroke="#1a1a1a" stroke-width="1.0" stroke-linecap="butt"/>
<line x1="236.30" y1="290.30" x2="238.70" y2="290.30" stroke="#1a1a1a" stroke-width="0.8" stroke-linecap="butt"/>
<text x="235.80" y="292.30" font-size="5.6" text-anchor="end" font-weight="normal" fill="#000" stroke="#000" stroke-width="0.2" transform="translate(235.80 292.30) scale(1.2 1) translate(-235.80 -292.30)" >100</text>
<line x1="236.30" y1="320.60" x2="238.70" y2="320.60" stroke="#1a1a1a" stroke-width="0.8" stroke-linecap="butt"/>
<text x="235.80" y="322.60" font-size="5.6" text-anchor="end" font-weight="normal" fill="#000" stroke="#000" stroke-width="0.2" transform="translate(235.80 322.60) scale(1.2 1) translate(-235.80 -322.60)" >50</text>
<line x1="236.30" y1="351.00" x2="238.70" y2="351.00" stroke="#1a1a1a" stroke-width="0.8" stroke-linecap="butt"/>
<text x="235.80" y="353.00" font-size="5.6" text-anchor="end" font-weight="normal" fill="#000" stroke="#000" stroke-width="0.2" transform="translate(235.80 353.00) scale(1.2 1) translate(-235.80 -353.00)" >0</text>
<rect x="246.80" y="290.80" width="16.20" height="26.70" fill="#FC9712" rx="0" />
<rect x="246.80" y="317.50" width="16.20" height="33.50" fill="#0F9854" rx="0" />
<rect x="271.20" y="290.80" width="16.20" height="25.50" fill="#FC9712" rx="0" />
<rect x="271.20" y="316.30" width="16.20" height="34.70" fill="#0F9854" rx="0" />
<rect x="295.50" y="288.00" width="16.20" height="42.80" fill="#FC9712" rx="0" />
<rect x="295.50" y="330.80" width="16.20" height="20.20" fill="#0F9854" rx="0" />
<line x1="254.90" y1="317.50" x2="254.90" y2="312.50" stroke="#111" stroke-width="1.2" stroke-linecap="butt"/>
<line x1="250.40" y1="312.50" x2="259.40" y2="312.50" stroke="#111" stroke-width="1.2" stroke-linecap="butt"/>
<line x1="254.90" y1="290.80" x2="254.90" y2="285.80" stroke="#111" stroke-width="1.2" stroke-linecap="butt"/>
<line x1="250.40" y1="285.80" x2="259.40" y2="285.80" stroke="#111" stroke-width="1.2" stroke-linecap="butt"/>
<line x1="279.30" y1="316.30" x2="279.30" y2="308.80" stroke="#111" stroke-width="1.2" stroke-linecap="butt"/>
<line x1="274.80" y1="308.80" x2="283.80" y2="308.80" stroke="#111" stroke-width="1.2" stroke-linecap="butt"/>
<line x1="279.30" y1="290.80" x2="279.30" y2="283.00" stroke="#111" stroke-width="1.2" stroke-linecap="butt"/>
<line x1="274.80" y1="283.00" x2="283.80" y2="283.00" stroke="#111" stroke-width="1.2" stroke-linecap="butt"/>
<line x1="303.60" y1="330.80" x2="303.60" y2="329.30" stroke="#111" stroke-width="1.2" stroke-linecap="butt"/>
<line x1="299.10" y1="329.30" x2="308.10" y2="329.30" stroke="#111" stroke-width="1.2" stroke-linecap="butt"/>
<line x1="303.60" y1="288.00" x2="303.60" y2="279.30" stroke="#111" stroke-width="1.2" stroke-linecap="butt"/>
<line x1="299.10" y1="279.30" x2="308.10" y2="279.30" stroke="#111" stroke-width="1.2" stroke-linecap="butt"/>
<text x="279.30" y="279.20" font-size="5.5" text-anchor="middle" font-weight="normal" fill="#F9A648" stroke="#F9A648" stroke-width="0.28" >ns</text>
<text x="304.05" y="277.00" font-size="6.2" text-anchor="middle" font-weight="normal" fill="#F9A648" stroke="#F9A648" stroke-width="0.28" letter-spacing="0.9">*</text>
<text x="61.60" y="362.20" font-size="9.65" text-anchor="end" font-weight="normal" fill="#000" stroke="#000" stroke-width="0.28" transform="rotate(-26.5 61.60 362.20)" >Vehicle</text>
<text x="87.10" y="362.20" font-size="9.65" text-anchor="end" font-weight="normal" fill="#000" stroke="#000" stroke-width="0.28" transform="rotate(-26.5 87.10 362.20)" >ONC 0.2</text>
<text x="111.30" y="362.20" font-size="9.65" text-anchor="end" font-weight="normal" fill="#000" stroke="#000" stroke-width="0.28" transform="rotate(-26.5 111.30 362.20)" >ONC 0.4</text>
<text x="159.20" y="362.20" font-size="9.65" text-anchor="end" font-weight="normal" fill="#000" stroke="#000" stroke-width="0.28" transform="rotate(-26.5 159.20 362.20)" >Vehicle</text>
<text x="184.50" y="362.20" font-size="9.65" text-anchor="end" font-weight="normal" fill="#000" stroke="#000" stroke-width="0.28" transform="rotate(-26.5 184.50 362.20)" >ONC 0.2</text>
<text x="208.40" y="362.20" font-size="9.65" text-anchor="end" font-weight="normal" fill="#000" stroke="#000" stroke-width="0.28" transform="rotate(-26.5 208.40 362.20)" >ONC 0.4</text>
<text x="256.20" y="362.20" font-size="9.65" text-anchor="end" font-weight="normal" fill="#000" stroke="#000" stroke-width="0.28" transform="rotate(-26.5 256.20 362.20)" >Vehicle</text>
<text x="281.30" y="362.20" font-size="9.65" text-anchor="end" font-weight="normal" fill="#000" stroke="#000" stroke-width="0.28" transform="rotate(-26.5 281.30 362.20)" >ONC 0.2</text>
<text x="306.30" y="362.20" font-size="9.65" text-anchor="end" font-weight="normal" fill="#000" stroke="#000" stroke-width="0.28" transform="rotate(-26.5 306.30 362.20)" >ONC 0.4</text>
<line x1="53.20" y1="418.25" x2="53.20" y2="513.10" stroke="#000" stroke-width="1.3" stroke-linecap="butt"/>
<line x1="51.00" y1="512.50" x2="162.80" y2="512.50" stroke="#000" stroke-width="1.3" stroke-linecap="butt"/>
<line x1="51.00" y1="512.50" x2="53.20" y2="512.50" stroke="#000" stroke-width="1.0" stroke-linecap="butt"/>
<text x="50.70" y="516.00" font-size="8.8" text-anchor="end" font-weight="normal" fill="#000" stroke="#000" stroke-width="0.28" transform="translate(50.70 516.00) scale(0.88 1) translate(-50.70 -516.00)" >0.0</text>
<line x1="51.00" y1="489.06" x2="53.20" y2="489.06" stroke="#000" stroke-width="1.0" stroke-linecap="butt"/>
<text x="50.70" y="492.56" font-size="8.8" text-anchor="end" font-weight="normal" fill="#000" stroke="#000" stroke-width="0.28" transform="translate(50.70 492.56) scale(0.88 1) translate(-50.70 -492.56)" >0.5</text>
<line x1="51.00" y1="465.62" x2="53.20" y2="465.62" stroke="#000" stroke-width="1.0" stroke-linecap="butt"/>
<text x="50.70" y="469.12" font-size="8.8" text-anchor="end" font-weight="normal" fill="#000" stroke="#000" stroke-width="0.28" transform="translate(50.70 469.12) scale(0.88 1) translate(-50.70 -469.12)" >1.0</text>
<line x1="51.00" y1="442.19" x2="53.20" y2="442.19" stroke="#000" stroke-width="1.0" stroke-linecap="butt"/>
<text x="50.70" y="445.69" font-size="8.8" text-anchor="end" font-weight="normal" fill="#000" stroke="#000" stroke-width="0.28" transform="translate(50.70 445.69) scale(0.88 1) translate(-50.70 -445.69)" >1.5</text>
<line x1="51.00" y1="418.75" x2="53.20" y2="418.75" stroke="#000" stroke-width="1.0" stroke-linecap="butt"/>
<text x="50.70" y="422.25" font-size="8.8" text-anchor="end" font-weight="normal" fill="#000" stroke="#000" stroke-width="0.28" transform="translate(50.70 422.25) scale(0.88 1) translate(-50.70 -422.25)" >2.0</text>
<text x="102.70" y="407.60" font-size="10.2" text-anchor="middle" font-weight="normal" fill="#000" stroke="#000" stroke-width="0.28" >BxPC3</text>
<text x="69.00" y="524.90" font-size="8.5" text-anchor="middle" font-weight="normal" fill="#000" stroke="#000" stroke-width="0.28" >Vehicle</text>
<text x="106.80" y="524.90" font-size="8.5" text-anchor="middle" font-weight="normal" fill="#000" stroke="#000" stroke-width="0.28" >ONC 0.2</text>
<text x="146.30" y="524.90" font-size="8.5" text-anchor="middle" font-weight="normal" fill="#000" stroke="#000" stroke-width="0.28" >ONC 0.4</text>
<polyline points="67.50,481.09 108.30,437.50 149.30,431.41" fill="none" stroke="#000" stroke-width="1.25" stroke-linejoin="round"/>
<polyline points="67.50,482.03 108.30,439.84 149.30,432.34" fill="none" stroke="#000" stroke-width="1.25" stroke-linejoin="round"/>
<polyline points="67.50,483.44 108.30,449.69 149.30,432.81" fill="none" stroke="#000" stroke-width="1.25" stroke-linejoin="round"/>
<polyline points="67.50,489.53 108.30,476.88 149.30,475.47" fill="none" stroke="#000" stroke-width="1.25" stroke-linejoin="round"/>
<polyline points="67.50,490.47 108.30,481.09 149.30,473.59" fill="none" stroke="#000" stroke-width="1.25" stroke-linejoin="round"/>
<polyline points="67.50,491.88 108.30,486.25 149.30,469.84" fill="none" stroke="#000" stroke-width="1.25" stroke-linejoin="round"/>
<rect x="65.30" y="478.89" width="4.40" height="4.40" fill="#000" rx="0" />
<rect x="106.10" y="435.30" width="4.40" height="4.40" fill="#000" rx="0" />
<rect x="147.10" y="429.21" width="4.40" height="4.40" fill="#000" rx="0" />
<rect x="65.30" y="479.83" width="4.40" height="4.40" fill="#000" rx="0" />
<rect x="106.10" y="437.64" width="4.40" height="4.40" fill="#000" rx="0" />
<rect x="147.10" y="430.14" width="4.40" height="4.40" fill="#000" rx="0" />
<rect x="65.30" y="481.24" width="4.40" height="4.40" fill="#000" rx="0" />
<rect x="106.10" y="447.49" width="4.40" height="4.40" fill="#000" rx="0" />
<rect x="147.10" y="430.61" width="4.40" height="4.40" fill="#000" rx="0" />
<circle cx="67.50" cy="489.53" r="2.05" fill="#000"/>
<circle cx="108.30" cy="476.88" r="2.05" fill="#000"/>
<circle cx="149.30" cy="475.47" r="2.05" fill="#000"/>
<circle cx="67.50" cy="490.47" r="2.05" fill="#000"/>
<circle cx="108.30" cy="481.09" r="2.05" fill="#000"/>
<circle cx="149.30" cy="473.59" r="2.05" fill="#000"/>
<circle cx="67.50" cy="491.88" r="2.05" fill="#000"/>
<circle cx="108.30" cy="486.25" r="2.05" fill="#000"/>
<circle cx="149.30" cy="469.84" r="2.05" fill="#000"/>
<text x="108.75" y="431.80" font-size="7" text-anchor="middle" font-weight="bold" fill="#000" stroke="#000" stroke-width="0.15" letter-spacing="0.9">***</text>
<text x="149.75" y="426.80" font-size="7" text-anchor="middle" font-weight="bold" fill="#000" stroke="#000" stroke-width="0.15" letter-spacing="0.9">***</text>
<text x="108.75" y="471.30" font-size="7" text-anchor="middle" font-weight="bold" fill="#000" stroke="#000" stroke-width="0.15" letter-spacing="0.9">*</text>
<text x="149.75" y="465.80" font-size="7" text-anchor="middle" font-weight="bold" fill="#000" stroke="#000" stroke-width="0.15" letter-spacing="0.9">***</text>
<line x1="187.50" y1="418.25" x2="187.50" y2="513.10" stroke="#000" stroke-width="1.3" stroke-linecap="butt"/>
<line x1="185.30" y1="512.50" x2="297.60" y2="512.50" stroke="#000" stroke-width="1.3" stroke-linecap="butt"/>
<line x1="185.30" y1="512.50" x2="187.50" y2="512.50" stroke="#000" stroke-width="1.0" stroke-linecap="butt"/>
<text x="185.00" y="516.00" font-size="8.8" text-anchor="end" font-weight="normal" fill="#000" stroke="#000" stroke-width="0.28" transform="translate(185.00 516.00) scale(0.88 1) translate(-185.00 -516.00)" >0.0</text>
<line x1="185.30" y1="489.06" x2="187.50" y2="489.06" stroke="#000" stroke-width="1.0" stroke-linecap="butt"/>
<text x="185.00" y="492.56" font-size="8.8" text-anchor="end" font-weight="normal" fill="#000" stroke="#000" stroke-width="0.28" transform="translate(185.00 492.56) scale(0.88 1) translate(-185.00 -492.56)" >0.2</text>
<line x1="185.30" y1="465.62" x2="187.50" y2="465.62" stroke="#000" stroke-width="1.0" stroke-linecap="butt"/>
<text x="185.00" y="469.12" font-size="8.8" text-anchor="end" font-weight="normal" fill="#000" stroke="#000" stroke-width="0.28" transform="translate(185.00 469.12) scale(0.88 1) translate(-185.00 -469.12)" >0.4</text>
<line x1="185.30" y1="442.19" x2="187.50" y2="442.19" stroke="#000" stroke-width="1.0" stroke-linecap="butt"/>
<text x="185.00" y="445.69" font-size="8.8" text-anchor="end" font-weight="normal" fill="#000" stroke="#000" stroke-width="0.28" transform="translate(185.00 445.69) scale(0.88 1) translate(-185.00 -445.69)" >0.6</text>
<line x1="185.30" y1="418.75" x2="187.50" y2="418.75" stroke="#000" stroke-width="1.0" stroke-linecap="butt"/>
<text x="185.00" y="422.25" font-size="8.8" text-anchor="end" font-weight="normal" fill="#000" stroke="#000" stroke-width="0.28" transform="translate(185.00 422.25) scale(0.88 1) translate(-185.00 -422.25)" >0.8</text>
<text x="237.50" y="407.60" font-size="10.2" text-anchor="middle" font-weight="normal" fill="#000" stroke="#000" stroke-width="0.28" >PANC-1</text>
<text x="205.60" y="524.90" font-size="8.5" text-anchor="middle" font-weight="normal" fill="#000" stroke="#000" stroke-width="0.28" >Vehicle</text>
<text x="241.80" y="524.90" font-size="8.5" text-anchor="middle" font-weight="normal" fill="#000" stroke="#000" stroke-width="0.28" >ONC 0.2</text>
<text x="281.30" y="524.90" font-size="8.5" text-anchor="middle" font-weight="normal" fill="#000" stroke="#000" stroke-width="0.28" >ONC 0.4</text>
<polyline points="201.80,464.45 242.50,442.19 283.30,437.97" fill="none" stroke="#000" stroke-width="1.25" stroke-linejoin="round"/>
<polyline points="201.80,466.21 242.50,443.01 283.30,439.49" fill="none" stroke="#000" stroke-width="1.25" stroke-linejoin="round"/>
<polyline points="201.80,467.97 242.50,443.71 283.30,441.25" fill="none" stroke="#000" stroke-width="1.25" stroke-linejoin="round"/>
<polyline points="201.80,489.06 242.50,484.38 283.30,456.95" fill="none" stroke="#000" stroke-width="1.25" stroke-linejoin="round"/>
<polyline points="201.80,489.65 242.50,484.96 283.30,481.21" fill="none" stroke="#000" stroke-width="1.25" stroke-linejoin="round"/>
<polyline points="201.80,490.23 242.50,489.53 283.30,482.03" fill="none" stroke="#000" stroke-width="1.25" stroke-linejoin="round"/>
<rect x="199.60" y="462.25" width="4.40" height="4.40" fill="#000" rx="0" />
<rect x="240.30" y="439.99" width="4.40" height="4.40" fill="#000" rx="0" />
<rect x="281.10" y="435.77" width="4.40" height="4.40" fill="#000" rx="0" />
<rect x="199.60" y="464.01" width="4.40" height="4.40" fill="#000" rx="0" />
<rect x="240.30" y="440.81" width="4.40" height="4.40" fill="#000" rx="0" />
<rect x="281.10" y="437.29" width="4.40" height="4.40" fill="#000" rx="0" />
<rect x="199.60" y="465.77" width="4.40" height="4.40" fill="#000" rx="0" />
<rect x="240.30" y="441.51" width="4.40" height="4.40" fill="#000" rx="0" />
<rect x="281.10" y="439.05" width="4.40" height="4.40" fill="#000" rx="0" />
<circle cx="201.80" cy="489.06" r="2.05" fill="#000"/>
<circle cx="242.50" cy="484.38" r="2.05" fill="#000"/>
<circle cx="283.30" cy="456.95" r="2.05" fill="#000"/>
<circle cx="201.80" cy="489.65" r="2.05" fill="#000"/>
<circle cx="242.50" cy="484.96" r="2.05" fill="#000"/>
<circle cx="283.30" cy="481.21" r="2.05" fill="#000"/>
<circle cx="201.80" cy="490.23" r="2.05" fill="#000"/>
<circle cx="242.50" cy="489.53" r="2.05" fill="#000"/>
<circle cx="283.30" cy="482.03" r="2.05" fill="#000"/>
<text x="242.95" y="437.30" font-size="7" text-anchor="middle" font-weight="bold" fill="#000" stroke="#000" stroke-width="0.15" letter-spacing="0.9">***</text>
<text x="283.75" y="433.60" font-size="7" text-anchor="middle" font-weight="bold" fill="#000" stroke="#000" stroke-width="0.15" letter-spacing="0.9">***</text>
<text x="242.50" y="479.00" font-size="6.2" text-anchor="middle" font-weight="normal" fill="#000" stroke="#000" stroke-width="0.28" >ns</text>
<text x="283.30" y="451.50" font-size="6.2" text-anchor="middle" font-weight="normal" fill="#000" stroke="#000" stroke-width="0.28" >ns</text>
<line x1="316.30" y1="418.25" x2="316.30" y2="513.10" stroke="#000" stroke-width="1.3" stroke-linecap="butt"/>
<line x1="314.10" y1="512.50" x2="430.20" y2="512.50" stroke="#000" stroke-width="1.3" stroke-linecap="butt"/>
<line x1="314.10" y1="512.50" x2="316.30" y2="512.50" stroke="#000" stroke-width="1.0" stroke-linecap="butt"/>
<text x="313.80" y="516.00" font-size="8.8" text-anchor="end" font-weight="normal" fill="#000" stroke="#000" stroke-width="0.28" transform="translate(313.80 516.00) scale(0.88 1) translate(-313.80 -516.00)" >0</text>
<line x1="314.10" y1="481.25" x2="316.30" y2="481.25" stroke="#000" stroke-width="1.0" stroke-linecap="butt"/>
<text x="313.80" y="484.75" font-size="8.8" text-anchor="end" font-weight="normal" fill="#000" stroke="#000" stroke-width="0.28" transform="translate(313.80 484.75) scale(0.88 1) translate(-313.80 -484.75)" >1</text>
<line x1="314.10" y1="450.00" x2="316.30" y2="450.00" stroke="#000" stroke-width="1.0" stroke-linecap="butt"/>
<text x="313.80" y="453.50" font-size="8.8" text-anchor="end" font-weight="normal" fill="#000" stroke="#000" stroke-width="0.28" transform="translate(313.80 453.50) scale(0.88 1) translate(-313.80 -453.50)" >2</text>
<line x1="314.10" y1="418.75" x2="316.30" y2="418.75" stroke="#000" stroke-width="1.0" stroke-linecap="butt"/>
<text x="313.80" y="422.25" font-size="8.8" text-anchor="end" font-weight="normal" fill="#000" stroke="#000" stroke-width="0.28" transform="translate(313.80 422.25) scale(0.88 1) translate(-313.80 -422.25)" >3</text>
<text x="371.30" y="407.60" font-size="10.2" text-anchor="middle" font-weight="normal" fill="#000" stroke="#000" stroke-width="0.28" >Capan-2</text>
<text x="334.40" y="524.90" font-size="8.5" text-anchor="middle" font-weight="normal" fill="#000" stroke="#000" stroke-width="0.28" >Vehicle</text>
<text x="373.20" y="524.90" font-size="8.5" text-anchor="middle" font-weight="normal" fill="#000" stroke="#000" stroke-width="0.28" >ONC 0.2</text>
<text x="413.40" y="524.90" font-size="8.5" text-anchor="middle" font-weight="normal" fill="#000" stroke="#000" stroke-width="0.28" >ONC 0.4</text>
<polyline points="330.00,494.38 373.40,443.12 416.40,435.00" fill="none" stroke="#000" stroke-width="1.25" stroke-linejoin="round"/>
<polyline points="330.00,495.00 373.40,445.00 416.40,435.00" fill="none" stroke="#000" stroke-width="1.25" stroke-linejoin="round"/>
<polyline points="330.00,495.62 373.40,462.50 416.40,423.75" fill="none" stroke="#000" stroke-width="1.25" stroke-linejoin="round"/>
<polyline points="330.00,503.12 373.40,496.88 416.40,494.38" fill="none" stroke="#000" stroke-width="1.25" stroke-linejoin="round"/>
<polyline points="330.00,504.38 373.40,498.75 416.40,496.25" fill="none" stroke="#000" stroke-width="1.25" stroke-linejoin="round"/>
<polyline points="330.00,505.00 373.40,502.50 416.40,492.50" fill="none" stroke="#000" stroke-width="1.25" stroke-linejoin="round"/>
<rect x="327.80" y="492.18" width="4.40" height="4.40" fill="#000" rx="0" />
<rect x="371.20" y="440.93" width="4.40" height="4.40" fill="#000" rx="0" />
<rect x="414.20" y="432.80" width="4.40" height="4.40" fill="#000" rx="0" />
<rect x="327.80" y="492.80" width="4.40" height="4.40" fill="#000" rx="0" />
<rect x="371.20" y="442.80" width="4.40" height="4.40" fill="#000" rx="0" />
<rect x="414.20" y="432.80" width="4.40" height="4.40" fill="#000" rx="0" />
<rect x="327.80" y="493.43" width="4.40" height="4.40" fill="#000" rx="0" />
<rect x="371.20" y="460.30" width="4.40" height="4.40" fill="#000" rx="0" />
<rect x="414.20" y="421.55" width="4.40" height="4.40" fill="#000" rx="0" />
<circle cx="330.00" cy="503.12" r="2.05" fill="#000"/>
<circle cx="373.40" cy="496.88" r="2.05" fill="#000"/>
<circle cx="416.40" cy="494.38" r="2.05" fill="#000"/>
<circle cx="330.00" cy="504.38" r="2.05" fill="#000"/>
<circle cx="373.40" cy="498.75" r="2.05" fill="#000"/>
<circle cx="416.40" cy="496.25" r="2.05" fill="#000"/>
<circle cx="330.00" cy="505.00" r="2.05" fill="#000"/>
<circle cx="373.40" cy="502.50" r="2.05" fill="#000"/>
<circle cx="416.40" cy="492.50" r="2.05" fill="#000"/>
<text x="373.85" y="438.10" font-size="7" text-anchor="middle" font-weight="bold" fill="#000" stroke="#000" stroke-width="0.15" letter-spacing="0.9">**</text>
<text x="416.85" y="419.10" font-size="7" text-anchor="middle" font-weight="bold" fill="#000" stroke="#000" stroke-width="0.15" letter-spacing="0.9">***</text>
<text x="373.85" y="492.80" font-size="7" text-anchor="middle" font-weight="bold" fill="#000" stroke="#000" stroke-width="0.15" letter-spacing="0.9">*</text>
<text x="416.85" y="487.80" font-size="7" text-anchor="middle" font-weight="bold" fill="#000" stroke="#000" stroke-width="0.15" letter-spacing="0.9">**</text>
<text x="20.20" y="462.50" font-size="9.4" text-anchor="middle" font-weight="normal" fill="#000" stroke="#000" stroke-width="0.28" transform="rotate(-90 20.20 462.50)" >Normalized</text>
<text x="30.20" y="462.50" font-size="9.4" text-anchor="middle" font-weight="normal" fill="#000" stroke="#000" stroke-width="0.28" transform="rotate(-90 30.20 462.50)" >lactate RLU</text>
<circle cx="449.20" cy="429.80" r="3.3" fill="#000"/>
<rect x="446.00" y="439.40" width="6.40" height="6.40" fill="#000" rx="0" />
<text x="456.90" y="433.20" font-size="9.2" text-anchor="start" font-weight="normal" fill="#000" stroke="#000" stroke-width="0.28" >24 h</text>
<text x="456.90" y="446.00" font-size="9.2" text-anchor="start" font-weight="normal" fill="#000" stroke="#000" stroke-width="0.28" >48 h</text>
<line x1="54.60" y1="565.50" x2="54.60" y2="644.80" stroke="#000" stroke-width="1.3" stroke-linecap="butt"/>
<line x1="52.70" y1="644.20" x2="132.50" y2="644.20" stroke="#000" stroke-width="1.3" stroke-linecap="butt"/>
<line x1="52.70" y1="644.20" x2="54.60" y2="644.20" stroke="#000" stroke-width="1.0" stroke-linecap="butt"/>
<text x="52.10" y="646.60" font-size="6.7" text-anchor="end" font-weight="normal" fill="#000" stroke="#000" stroke-width="0.42" >0.0</text>
<line x1="52.70" y1="628.56" x2="54.60" y2="628.56" stroke="#000" stroke-width="1.0" stroke-linecap="butt"/>
<text x="52.10" y="630.96" font-size="6.7" text-anchor="end" font-weight="normal" fill="#000" stroke="#000" stroke-width="0.42" >0.5</text>
<line x1="52.70" y1="612.92" x2="54.60" y2="612.92" stroke="#000" stroke-width="1.0" stroke-linecap="butt"/>
<text x="52.10" y="615.32" font-size="6.7" text-anchor="end" font-weight="normal" fill="#000" stroke="#000" stroke-width="0.42" >1.0</text>
<line x1="52.70" y1="597.28" x2="54.60" y2="597.28" stroke="#000" stroke-width="1.0" stroke-linecap="butt"/>
<text x="52.10" y="599.68" font-size="6.7" text-anchor="end" font-weight="normal" fill="#000" stroke="#000" stroke-width="0.42" >1.5</text>
<line x1="52.70" y1="581.64" x2="54.60" y2="581.64" stroke="#000" stroke-width="1.0" stroke-linecap="butt"/>
<text x="52.10" y="584.04" font-size="6.7" text-anchor="end" font-weight="normal" fill="#000" stroke="#000" stroke-width="0.42" >2.0</text>
<line x1="52.70" y1="566.00" x2="54.60" y2="566.00" stroke="#000" stroke-width="1.0" stroke-linecap="butt"/>
<text x="52.10" y="568.40" font-size="6.7" text-anchor="end" font-weight="normal" fill="#000" stroke="#000" stroke-width="0.42" >2.5</text>
<text x="89.40" y="557.20" font-size="10.6" text-anchor="middle" font-weight="normal" fill="#000" stroke="#000" stroke-width="0.28" >BxPC3</text>
<text x="31.0" y="603.5" font-size="9.2" text-anchor="middle" stroke="#000" stroke-width="0.28" transform="rotate(-90 31.0 603.5)">NAD<tspan font-size="6" dy="-3">+</tspan><tspan dy="3">/NADH</tspan></text>
<line x1="63.25" y1="618.60" x2="77.75" y2="618.60" stroke="#000" stroke-width="1.15" stroke-linecap="butt"/>
<line x1="70.50" y1="617.60" x2="70.50" y2="619.60" stroke="#000" stroke-width="1.1" stroke-linecap="butt"/>
<line x1="70.50" y1="617.60" x2="70.50" y2="617.60" stroke="#000" stroke-width="1.1" stroke-linecap="butt"/>
<line x1="70.50" y1="619.60" x2="70.50" y2="619.60" stroke="#000" stroke-width="1.1" stroke-linecap="butt"/>
<circle cx="64.50" cy="618.80" r="1.75" fill="#000"/>
<circle cx="67.50" cy="618.80" r="1.75" fill="#000"/>
<circle cx="70.80" cy="618.80" r="1.75" fill="#000"/>
<circle cx="73.80" cy="618.30" r="1.75" fill="#000"/>
<circle cx="76.80" cy="616.30" r="1.75" fill="#000"/>
<line x1="86.25" y1="587.00" x2="101.75" y2="587.00" stroke="#000" stroke-width="1.15" stroke-linecap="butt"/>
<line x1="94.00" y1="579.30" x2="94.00" y2="595.00" stroke="#000" stroke-width="1.1" stroke-linecap="butt"/>
<line x1="90.00" y1="579.30" x2="98.00" y2="579.30" stroke="#000" stroke-width="1.1" stroke-linecap="butt"/>
<line x1="90.00" y1="595.00" x2="98.00" y2="595.00" stroke="#000" stroke-width="1.1" stroke-linecap="butt"/>
<circle cx="93.80" cy="575.50" r="1.75" fill="#000"/>
<circle cx="88.00" cy="588.80" r="1.75" fill="#000"/>
<circle cx="98.80" cy="592.00" r="1.75" fill="#000"/>
<circle cx="93.00" cy="594.30" r="1.75" fill="#000"/>
<line x1="109.75" y1="594.30" x2="125.25" y2="594.30" stroke="#000" stroke-width="1.15" stroke-linecap="butt"/>
<line x1="117.50" y1="590.50" x2="117.50" y2="597.50" stroke="#000" stroke-width="1.1" stroke-linecap="butt"/>
<line x1="113.50" y1="590.50" x2="121.50" y2="590.50" stroke="#000" stroke-width="1.1" stroke-linecap="butt"/>
<line x1="113.50" y1="597.50" x2="121.50" y2="597.50" stroke="#000" stroke-width="1.1" stroke-linecap="butt"/>
<circle cx="114.30" cy="590.00" r="1.75" fill="#000"/>
<circle cx="122.50" cy="594.30" r="1.75" fill="#000"/>
<circle cx="119.50" cy="595.00" r="1.75" fill="#000"/>
<circle cx="115.00" cy="598.00" r="1.75" fill="#000"/>
<text x="94.25" y="571.70" font-size="7.2" text-anchor="middle" font-weight="bold" fill="#000" stroke="#000" stroke-width="0.15" letter-spacing="0.9">***</text>
<text x="117.95" y="585.00" font-size="7.2" text-anchor="middle" font-weight="bold" fill="#000" stroke="#000" stroke-width="0.15" letter-spacing="0.9">***</text>
<text x="72.60" y="652.30" font-size="9.65" text-anchor="end" font-weight="normal" fill="#000" stroke="#000" stroke-width="0.28" transform="rotate(-26.5 72.60 652.30)" >Vehicle</text>
<text x="97.10" y="652.30" font-size="9.65" text-anchor="end" font-weight="normal" fill="#000" stroke="#000" stroke-width="0.28" transform="rotate(-26.5 97.10 652.30)" >ONC 0.2</text>
<text x="123.10" y="652.30" font-size="9.65" text-anchor="end" font-weight="normal" fill="#000" stroke="#000" stroke-width="0.28" transform="rotate(-26.5 123.10 652.30)" >ONC 0.4</text>
<line x1="195.50" y1="568.80" x2="195.50" y2="645.60" stroke="#484848" stroke-width="1.3" stroke-linecap="butt"/>
<line x1="193.90" y1="645.00" x2="278.80" y2="645.00" stroke="#484848" stroke-width="1.4" stroke-linecap="butt"/>
<line x1="193.70" y1="645.00" x2="195.50" y2="645.00" stroke="#484848" stroke-width="0.9" stroke-linecap="butt"/>
<text x="189.50" y="647.20" font-size="6.0" text-anchor="end" font-weight="normal" fill="#000" stroke="#000" stroke-width="0.4" >0</text>
<line x1="193.70" y1="626.05" x2="195.50" y2="626.05" stroke="#484848" stroke-width="0.9" stroke-linecap="butt"/>
<text x="189.50" y="628.25" font-size="6.0" text-anchor="end" font-weight="normal" fill="#000" stroke="#000" stroke-width="0.4" >200</text>
<line x1="193.70" y1="607.10" x2="195.50" y2="607.10" stroke="#484848" stroke-width="0.9" stroke-linecap="butt"/>
<text x="189.50" y="609.30" font-size="6.0" text-anchor="end" font-weight="normal" fill="#000" stroke="#000" stroke-width="0.4" >400</text>
<line x1="193.70" y1="588.15" x2="195.50" y2="588.15" stroke="#484848" stroke-width="0.9" stroke-linecap="butt"/>
<text x="189.50" y="590.35" font-size="6.0" text-anchor="end" font-weight="normal" fill="#000" stroke="#000" stroke-width="0.4" >600</text>
<line x1="193.70" y1="569.20" x2="195.50" y2="569.20" stroke="#484848" stroke-width="0.9" stroke-linecap="butt"/>
<text x="189.50" y="571.40" font-size="6.0" text-anchor="end" font-weight="normal" fill="#000" stroke="#000" stroke-width="0.4" >800</text>
<line x1="195.50" y1="645.00" x2="195.50" y2="646.80" stroke="#484848" stroke-width="0.9" stroke-linecap="butt"/>
<text x="195.50" y="654.90" font-size="6.0" text-anchor="middle" font-weight="normal" fill="#000" stroke="#000" stroke-width="0.4" >0</text>
<line x1="232.70" y1="645.00" x2="232.70" y2="646.80" stroke="#484848" stroke-width="0.9" stroke-linecap="butt"/>
<text x="232.70" y="654.90" font-size="6.0" text-anchor="middle" font-weight="normal" fill="#000" stroke="#000" stroke-width="0.4" >800</text>
<line x1="269.00" y1="645.00" x2="269.00" y2="646.80" stroke="#484848" stroke-width="0.9" stroke-linecap="butt"/>
<text x="269.00" y="654.90" font-size="6.0" text-anchor="middle" font-weight="normal" fill="#000" stroke="#000" stroke-width="0.4" >1,600</text>
<text x="237.60" y="557.20" font-size="10.6" text-anchor="middle" font-weight="normal" fill="#000" stroke="#000" stroke-width="0.28" >BxPC3</text>
<rect x="237.40" y="580.40" width="9.40" height="9.40" fill="#A9CF5F" rx="0.9" />
<rect x="259.20" y="610.40" width="9.40" height="9.40" fill="#4B8FD6" rx="0.9" />
<rect x="250.30" y="630.00" width="9.40" height="9.40" fill="#D95550" rx="0.9" />
<line x1="301.30" y1="567.40" x2="301.30" y2="645.10" stroke="#484848" stroke-width="1.3" stroke-linecap="butt"/>
<line x1="299.70" y1="644.50" x2="395.00" y2="644.50" stroke="#484848" stroke-width="1.4" stroke-linecap="butt"/>
<line x1="299.50" y1="644.50" x2="301.30" y2="644.50" stroke="#484848" stroke-width="0.9" stroke-linecap="butt"/>
<text x="295.30" y="646.70" font-size="6.0" text-anchor="end" font-weight="normal" fill="#000" stroke="#000" stroke-width="0.4" >0</text>
<line x1="299.50" y1="625.33" x2="301.30" y2="625.33" stroke="#484848" stroke-width="0.9" stroke-linecap="butt"/>
<text x="295.30" y="627.53" font-size="6.0" text-anchor="end" font-weight="normal" fill="#000" stroke="#000" stroke-width="0.4" >200</text>
<line x1="299.50" y1="606.15" x2="301.30" y2="606.15" stroke="#484848" stroke-width="0.9" stroke-linecap="butt"/>
<text x="295.30" y="608.35" font-size="6.0" text-anchor="end" font-weight="normal" fill="#000" stroke="#000" stroke-width="0.4" >400</text>
<line x1="299.50" y1="586.97" x2="301.30" y2="586.97" stroke="#484848" stroke-width="0.9" stroke-linecap="butt"/>
<text x="295.30" y="589.17" font-size="6.0" text-anchor="end" font-weight="normal" fill="#000" stroke="#000" stroke-width="0.4" >600</text>
<line x1="299.50" y1="567.80" x2="301.30" y2="567.80" stroke="#484848" stroke-width="0.9" stroke-linecap="butt"/>
<text x="295.30" y="570.00" font-size="6.0" text-anchor="end" font-weight="normal" fill="#000" stroke="#000" stroke-width="0.4" >800</text>
<line x1="301.30" y1="644.50" x2="301.30" y2="646.30" stroke="#484848" stroke-width="0.9" stroke-linecap="butt"/>
<text x="301.30" y="654.40" font-size="6.0" text-anchor="middle" font-weight="normal" fill="#000" stroke="#000" stroke-width="0.4" >0</text>
<line x1="348.15" y1="644.50" x2="348.15" y2="646.30" stroke="#484848" stroke-width="0.9" stroke-linecap="butt"/>
<text x="348.15" y="654.40" font-size="6.0" text-anchor="middle" font-weight="normal" fill="#000" stroke="#000" stroke-width="0.4" >800</text>
<line x1="395.00" y1="644.50" x2="395.00" y2="646.30" stroke="#484848" stroke-width="0.9" stroke-linecap="butt"/>
<text x="395.00" y="654.40" font-size="6.0" text-anchor="middle" font-weight="normal" fill="#000" stroke="#000" stroke-width="0.4" >1,600</text>
<text x="349.50" y="557.20" font-size="10.6" text-anchor="middle" font-weight="normal" fill="#000" stroke="#000" stroke-width="0.28" >PANC-1</text>
<line x1="359.30" y1="581.20" x2="359.30" y2="603.80" stroke="#333" stroke-width="0.9" stroke-linecap="butt"/>
<line x1="356.30" y1="581.20" x2="362.30" y2="581.20" stroke="#333" stroke-width="0.9" stroke-linecap="butt"/>
<line x1="356.30" y1="603.80" x2="362.30" y2="603.80" stroke="#333" stroke-width="0.9" stroke-linecap="butt"/>
<rect x="354.60" y="587.80" width="9.40" height="9.40" fill="#A9CF5F" rx="0.9" />
<line x1="366.20" y1="617.50" x2="377.80" y2="617.50" stroke="#333" stroke-width="0.9" stroke-linecap="butt"/>
<line x1="366.20" y1="615.20" x2="366.20" y2="619.80" stroke="#333" stroke-width="0.9" stroke-linecap="butt"/>
<line x1="377.80" y1="615.20" x2="377.80" y2="619.80" stroke="#333" stroke-width="0.9" stroke-linecap="butt"/>
<rect x="367.30" y="612.80" width="9.40" height="9.40" fill="#4B8FD6" rx="0.9" />
<line x1="368.00" y1="629.50" x2="387.00" y2="629.50" stroke="#333" stroke-width="0.9" stroke-linecap="butt"/>
<line x1="368.00" y1="627.20" x2="368.00" y2="631.80" stroke="#333" stroke-width="0.9" stroke-linecap="butt"/>
<line x1="387.00" y1="627.20" x2="387.00" y2="631.80" stroke="#333" stroke-width="0.9" stroke-linecap="butt"/>
<rect x="372.80" y="624.80" width="9.40" height="9.40" fill="#D95550" rx="0.9" />
<line x1="420.50" y1="568.40" x2="420.50" y2="645.60" stroke="#484848" stroke-width="1.3" stroke-linecap="butt"/>
<line x1="418.90" y1="645.00" x2="514.30" y2="645.00" stroke="#484848" stroke-width="1.4" stroke-linecap="butt"/>
<line x1="418.70" y1="645.00" x2="420.50" y2="645.00" stroke="#484848" stroke-width="0.9" stroke-linecap="butt"/>
<text x="414.50" y="647.20" font-size="6.0" text-anchor="end" font-weight="normal" fill="#000" stroke="#000" stroke-width="0.4" >0</text>
<line x1="418.70" y1="619.60" x2="420.50" y2="619.60" stroke="#484848" stroke-width="0.9" stroke-linecap="butt"/>
<text x="414.50" y="621.80" font-size="6.0" text-anchor="end" font-weight="normal" fill="#000" stroke="#000" stroke-width="0.4" >200</text>
<line x1="418.70" y1="594.20" x2="420.50" y2="594.20" stroke="#484848" stroke-width="0.9" stroke-linecap="butt"/>
<text x="414.50" y="596.40" font-size="6.0" text-anchor="end" font-weight="normal" fill="#000" stroke="#000" stroke-width="0.4" >400</text>
<line x1="418.70" y1="568.80" x2="420.50" y2="568.80" stroke="#484848" stroke-width="0.9" stroke-linecap="butt"/>
<text x="414.50" y="571.00" font-size="6.0" text-anchor="end" font-weight="normal" fill="#000" stroke="#000" stroke-width="0.4" >600</text>
<line x1="420.50" y1="645.00" x2="420.50" y2="646.80" stroke="#484848" stroke-width="0.9" stroke-linecap="butt"/>
<text x="420.50" y="654.90" font-size="6.0" text-anchor="middle" font-weight="normal" fill="#000" stroke="#000" stroke-width="0.4" >0</text>
<line x1="467.40" y1="645.00" x2="467.40" y2="646.80" stroke="#484848" stroke-width="0.9" stroke-linecap="butt"/>
<text x="467.40" y="654.90" font-size="6.0" text-anchor="middle" font-weight="normal" fill="#000" stroke="#000" stroke-width="0.4" >200</text>
<line x1="514.30" y1="645.00" x2="514.30" y2="646.80" stroke="#484848" stroke-width="0.9" stroke-linecap="butt"/>
<text x="514.30" y="654.90" font-size="6.0" text-anchor="middle" font-weight="normal" fill="#000" stroke="#000" stroke-width="0.4" >400</text>
<text x="470.00" y="557.20" font-size="10.6" text-anchor="middle" font-weight="normal" fill="#000" stroke="#000" stroke-width="0.28" >AsPC-1</text>
<line x1="499.50" y1="572.50" x2="499.50" y2="604.30" stroke="#333" stroke-width="0.9" stroke-linecap="butt"/>
<line x1="496.50" y1="572.50" x2="502.50" y2="572.50" stroke="#333" stroke-width="0.9" stroke-linecap="butt"/>
<line x1="496.50" y1="604.30" x2="502.50" y2="604.30" stroke="#333" stroke-width="0.9" stroke-linecap="butt"/>
<line x1="488.20" y1="588.30" x2="511.20" y2="588.30" stroke="#333" stroke-width="0.9" stroke-linecap="butt"/>
<line x1="488.20" y1="586.00" x2="488.20" y2="590.60" stroke="#333" stroke-width="0.9" stroke-linecap="butt"/>
<line x1="511.20" y1="586.00" x2="511.20" y2="590.60" stroke="#333" stroke-width="0.9" stroke-linecap="butt"/>
<rect x="494.80" y="583.60" width="9.40" height="9.40" fill="#A9CF5F" rx="0.9" />
<line x1="447.50" y1="608.70" x2="447.50" y2="635.80" stroke="#333" stroke-width="0.9" stroke-linecap="butt"/>
<line x1="444.50" y1="608.70" x2="450.50" y2="608.70" stroke="#333" stroke-width="0.9" stroke-linecap="butt"/>
<line x1="444.50" y1="635.80" x2="450.50" y2="635.80" stroke="#333" stroke-width="0.9" stroke-linecap="butt"/>
<rect x="442.80" y="617.80" width="9.40" height="9.40" fill="#4B8FD6" rx="0.9" />
<rect x="434.60" y="635.80" width="9.40" height="9.40" fill="#D95550" rx="0.9" />
<text x="172.40" y="606.00" font-size="9.3" text-anchor="middle" font-weight="normal" fill="#000" stroke="#000" stroke-width="0.28" transform="rotate(-90 172.40 606.00)" >mitoATP (pmol/min)</text>
<text x="348.60" y="667.60" font-size="9.3" text-anchor="middle" font-weight="normal" fill="#000" stroke="#000" stroke-width="0.28" >glycoATP (pmol/min)</text>
<rect x="263.80" y="682.00" width="7.60" height="7.60" fill="#A9CF5F" rx="0" />
<text x="275.20" y="688.80" font-size="8.1" text-anchor="start" font-weight="normal" fill="#000" stroke="#000" stroke-width="0.28" >Vehicle</text>
<rect x="322.50" y="682.00" width="7.60" height="7.60" fill="#4B8FD6" rx="0" />
<text x="333.90" y="688.80" font-size="8.1" text-anchor="start" font-weight="normal" fill="#000" stroke="#000" stroke-width="0.28" >ONC 0.2</text>
<rect x="386.80" y="682.00" width="7.60" height="7.60" fill="#D95550" rx="0" />
<text x="398.20" y="688.80" font-size="8.1" text-anchor="start" font-weight="normal" fill="#000" stroke="#000" stroke-width="0.28" >ONC 0.4</text>
</svg>
</body>
</html>
